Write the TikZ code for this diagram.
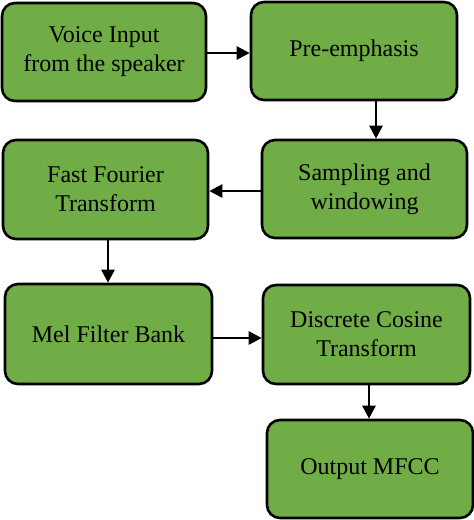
\documentclass[tikz,border=0pt]{standalone}
\usepackage{fontspec}
\setmainfont{Liberation Serif}
\newfontfamily\boxfont{Liberation Serif}
\usetikzlibrary{arrows.meta}
\definecolor{boxgreen}{HTML}{70AD47}
\begin{document}
\begin{tikzpicture}[x=1pt,y=-1pt,
  blk/.style={draw=black,line width=2.6pt,fill=boxgreen,rounded corners=13pt,
    align=center,font=\boxfont\fontsize{24}{29}\selectfont,inner sep=0pt},
  conn/.style={line width=2.6pt,-{Triangle[length=13pt,width=13pt]}}]
\useasboundingbox (0,0) rectangle (474,520);
\node[blk,minimum width=204pt,minimum height=98pt] (vi) at (104,52) {Voice Input\\from the speaker};
\node[blk,minimum width=206pt,minimum height=98pt] (pe) at (354,51) {Pre-emphasis};
\node[blk,minimum width=205pt,minimum height=98pt] (sw) at (364.5,189) {Sampling and\\windowing};
\node[blk,minimum width=205pt,minimum height=99pt] (fft) at (105.5,189.5) {Fast Fourier\\Transform};
\node[blk,minimum width=207pt,minimum height=100pt] (mel) at (108.5,334) {Mel Filter Bank};
\node[blk,minimum width=207pt,minimum height=99pt] (dct) at (366.5,334.5) {Discrete Cosine\\Transform};
\node[blk,minimum width=206pt,minimum height=98pt] (out) at (370,469) {Output MFCC};
\draw[conn] (vi.east |- 0,53) -- (pe.west |- 0,53);
\draw[conn] (pe.south -| 376,0) -- (sw.north -| 376,0);
\draw[conn] (sw.west |- 0,191) -- (fft.east |- 0,191);
\draw[conn] (fft.south -| 108,0) -- (mel.north -| 108,0);
\draw[conn] (mel.east |- 0,338) -- (dct.west |- 0,338);
\draw[conn] (dct.south -| 369,0) -- (out.north -| 369,0);
\end{tikzpicture}
\end{document}
